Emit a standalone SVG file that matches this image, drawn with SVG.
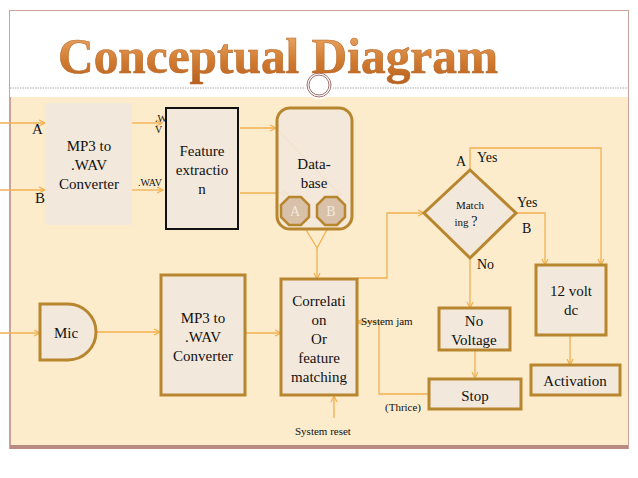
<svg xmlns="http://www.w3.org/2000/svg" width="638" height="478" viewBox="0 0 638 478">
<defs>
<linearGradient id="tg" x1="0" y1="0" x2="0" y2="1"><stop offset="0" stop-color="#f0b070"/><stop offset="0.6" stop-color="#d07a30"/><stop offset="1" stop-color="#b86020"/></linearGradient>
<marker id="ar" markerWidth="8" markerHeight="8" refX="7" refY="4" orient="auto" markerUnits="userSpaceOnUse"><path d="M1,1 L7,4 L1,7" fill="none" stroke="#f0b050" stroke-width="1.2"/></marker>
</defs>
<style>
.t{font-family:"Liberation Serif",serif;fill:#111}
.box{fill:#f2e8dc;stroke:#b8862e;stroke-width:3}
.c{fill:none;stroke:#f0b050;stroke-width:1.3}
.ca{fill:none;stroke:#f0b050;stroke-width:1.3;marker-end:url(#ar)}
</style>
<rect width="638" height="478" fill="#fff"/>
<rect x="9.5" y="10.5" width="619" height="438" fill="none" stroke="#c9a39a"/>
<line x1="10" y1="88" x2="628" y2="88" stroke="#aaa" stroke-dasharray="1.5,1"/>
<rect x="10" y="97" width="618" height="348" fill="#fdeccb"/>
<line x1="10" y1="97" x2="10" y2="445" stroke="#c9a39a" stroke-width="2"/>
<rect x="10" y="445" width="618" height="4" fill="#b88a80"/>
<circle cx="319" cy="85" r="14" fill="#fff"/>
<circle cx="319" cy="85" r="12" fill="none" stroke="#a07070" stroke-width="1"/>
<circle cx="319" cy="85" r="10" fill="none" stroke="#a07070" stroke-width="1"/>
<text x="278" y="73" text-anchor="middle" font-family="Liberation Serif,serif" font-weight="bold" font-size="50" textLength="440" lengthAdjust="spacingAndGlyphs" fill="url(#tg)" stroke="#b86a2a" stroke-width="0.6">Conceptual Diagram</text>

<g id="connectors">
<path class="ca" d="M0,123 H45"/><path class="ca" d="M0,190 H45"/>
<path class="ca" d="M132,123 H162"/><path class="ca" d="M132,190 H163"/>
<path class="ca" d="M240,128 H276"/><path class="ca" d="M240,193 H288"/>
<path class="ca" d="M278,130 L340,195"/>
<path class="c" d="M305,228 L317,248 L328,228"/><path class="ca" d="M317,248 V279"/>
<path class="ca" d="M357,278 H387 V213 H424"/>
<path class="ca" d="M470,170 V148 H601 V265"/>
<path class="ca" d="M516,213 H545 V265"/>
<path class="ca" d="M470,258 V308"/>
<path class="ca" d="M475,350 V378"/>
<path class="ca" d="M570,335 V365"/>
<path class="ca" d="M429,394 H379 V322 H357"/>
<path class="ca" d="M334,418 V396"/>
<path class="ca" d="M0,333 H40"/><path class="ca" d="M96,332 H160"/><path class="ca" d="M245,333 H281"/>
</g>
<g id="labels">
<text class="t" x="32" y="134" font-size="15">A</text>
<text class="t" x="35" y="203" font-size="15">B</text>
<text class="t" x="155" y="122" font-size="10">.WA</text>
<text class="t" x="155" y="133" font-size="10">V</text>
<text class="t" x="138" y="186" font-size="10">.WAV</text>
<text class="t" x="456" y="166" font-size="14">A</text>
<text class="t" x="477" y="162" font-size="14">Yes</text>
<text class="t" x="517" y="207" font-size="14">Yes</text>
<text class="t" x="522" y="233" font-size="14">B</text>
<text class="t" x="477" y="269" font-size="14">No</text>
<text class="t" x="361" y="325" font-size="11">System jam</text>
<text class="t" x="385" y="411" font-size="11">(Thrice)</text>
<text class="t" x="295" y="435" font-size="11">System reset</text>
</g>
<g id="conv1"><rect x="45" y="103" width="87" height="122" fill="#f2e8dc"/>
<text class="t" font-size="15" text-anchor="middle"><tspan x="89" y="151">MP3 to</tspan><tspan x="89" y="170">.WAV</tspan><tspan x="89" y="189">Converter</tspan></text></g>
<g id="feat"><rect x="166" y="108" width="72" height="121" fill="#f2e8dc" stroke="#111" stroke-width="2"/>
<text class="t" font-size="15" text-anchor="middle"><tspan x="202" y="156">Feature</tspan><tspan x="202" y="175">extractio</tspan><tspan x="202" y="194">n</tspan></text></g>
<g id="db"><rect x="277" y="108" width="75" height="121" rx="13" class="box" fill-opacity="0.9"/>
<text class="t" font-size="15" text-anchor="middle"><tspan x="314" y="169">Data-</tspan><tspan x="314" y="188">base</tspan></text>
<polygon points="289,197 301,197 309,205 309,217 301,225 289,225 281,217 281,205" fill="#d9c0a8" stroke="#b8862e" stroke-width="2.5"/>
<polygon points="325,197 337,197 345,205 345,217 337,225 325,225 317,217 317,205" fill="#d9c0a8" stroke="#b8862e" stroke-width="2.5"/>
<text font-family="Liberation Serif,serif" font-size="14" fill="#f2e8dc" x="295" y="216" text-anchor="middle">A</text>
<text font-family="Liberation Serif,serif" font-size="14" fill="#f2e8dc" x="331" y="216" text-anchor="middle">B</text></g>
<g id="diamond"><polygon points="470,170 516,213 470,258 424,213" class="box"/>
<text class="t" font-size="11" x="470" y="209" text-anchor="middle">Match</text>
<text class="t" font-size="11" x="466" y="226" text-anchor="middle">ing <tspan font-size="14">?</tspan></text></g>
<g id="volt"><rect x="536" y="265" width="70" height="70" class="box"/>
<text class="t" font-size="15" text-anchor="middle"><tspan x="571" y="296">12 volt</tspan><tspan x="571" y="315">dc</tspan></text></g>
<g id="act"><rect x="531" y="365" width="89" height="30" class="box"/><text class="t" font-size="15" x="575" y="386" text-anchor="middle">Activation</text></g>
<g id="novolt"><rect x="439" y="308" width="71" height="42" class="box"/>
<text class="t" font-size="15" text-anchor="middle"><tspan x="474" y="326">No</tspan><tspan x="474" y="345">Voltage</tspan></text></g>
<g id="stop"><rect x="429" y="379" width="92" height="30" class="box"/><text class="t" font-size="15" x="475" y="401" text-anchor="middle">Stop</text></g>
<g id="corr"><rect x="281" y="279" width="76" height="116" class="box"/>
<text class="t" font-size="15" text-anchor="middle"><tspan x="319" y="306">Correlati</tspan><tspan x="319" y="325">on</tspan><tspan x="319" y="344">Or</tspan><tspan x="319" y="363">feature</tspan><tspan x="319" y="382">matching</tspan></text></g>
<g id="conv2"><rect x="161" y="275" width="84" height="120" class="box"/>
<text class="t" font-size="15" text-anchor="middle"><tspan x="203" y="323">MP3 to</tspan><tspan x="203" y="342">.WAV</tspan><tspan x="203" y="361">Converter</tspan></text></g>
<g id="mic"><path d="M40,304 H68 A28,28 0 0 1 68,360 H40 Z" class="box"/><text class="t" font-size="15" x="66" y="338" text-anchor="middle">Mic</text></g>
</svg>
